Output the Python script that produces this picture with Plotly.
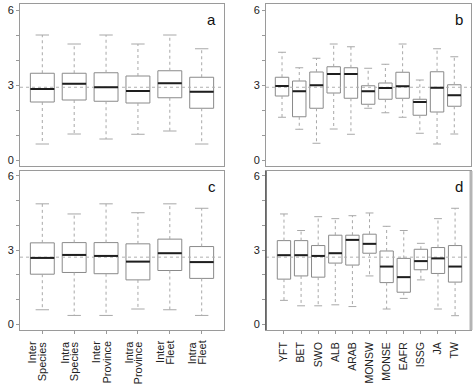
import plotly.graph_objects as go

W, H = 474, 386

# ---------------- data ----------------
group_line1 = ["Inter", "Intra", "Inter", "Intra", "Inter", "Intra"]
group_line2 = ["Species", "Species", "Province", "Province", "Fleet", "Fleet"]
stock_labels = ["YFT", "BET", "SWO", "ALB", "ARAB", "MONSW", "MONSE",
                "EAFR", "ISSG", "JA", "TW"]

# panel a
a_low = [0.64, 1.04, 0.84, 1.03, 1.16, 0.64]
a_q1 = [2.32, 2.40, 2.35, 2.28, 2.49, 2.07]
a_med = [2.84, 3.05, 2.91, 2.76, 3.07, 2.73]
a_q3 = [3.47, 3.47, 3.49, 3.36, 3.57, 3.31]
a_high = [5.00, 4.64, 5.00, 4.64, 5.00, 4.45]

# panel b
b_low = [1.71, 1.23, 0.67, 1.24, 1.03, 2.07, 1.89, 1.71, 1.07, 0.64, 1.04]
b_q1 = [2.56, 1.73, 2.07, 2.68, 2.47, 2.23, 2.43, 2.47, 1.79, 1.92, 2.15]
b_med = [2.96, 2.75, 2.99, 3.44, 3.44, 2.75, 2.88, 2.95, 2.32, 2.89, 2.59]
b_q3 = [3.31, 3.16, 3.52, 3.73, 3.69, 2.97, 3.08, 3.51, 2.43, 3.53, 3.01]
b_high = [4.31, 3.69, 4.07, 4.64, 4.53, 3.67, 3.83, 4.64, 3.20, 4.45, 4.13]

# panel c
c_low = [0.58, 0.35, 0.35, 0.61, 0.58, 0.35]
c_q1 = [2.02, 2.09, 2.04, 1.79, 2.17, 1.85]
c_med = [2.68, 2.80, 2.76, 2.53, 2.87, 2.51]
c_q3 = [3.29, 3.30, 3.30, 3.25, 3.44, 3.14]
c_high = [4.87, 4.46, 4.87, 4.51, 4.87, 4.69]

# panel d
d_low = [0.96, 0.74, 0.74, 0.78, 0.71, 1.95, 0.61, 1.04, 1.79, 0.61, 0.34]
d_q1 = [1.82, 1.95, 1.90, 2.47, 2.39, 2.87, 1.68, 1.29, 2.20, 2.05, 1.70]
d_med = [2.79, 2.79, 2.76, 2.87, 3.41, 3.25, 2.33, 1.90, 2.55, 2.66, 2.33]
d_q3 = [3.38, 3.38, 3.18, 3.60, 3.60, 3.64, 2.96, 2.66, 3.03, 3.10, 3.18]
d_high = [4.46, 3.79, 4.35, 4.27, 4.39, 4.50, 3.96, 3.79, 3.27, 4.27, 4.69]

ref_ab = 2.91
ref_cd = 2.71

y_ticks = [0, 1, 2, 3, 4, 5, 6]
y_ticktext = ["0", "", "", "3", "", "", "6"]

# ---------------- figure ----------------
fig = go.Figure()

FONT = "Liberation Sans, Arial, sans-serif"
BOX_COL = "#8a8a8a"
WHISK_COL = "#a8a8a8"
MED_COL = "#1e1e1e"
FRAME_COL = "#9a9a9a"

n_group = len(group_line1)
panels = [
    ("a", "x", "y", n_group, None, a_low, a_q1, a_med, a_q3, a_high, ref_ab,
     [20 / W, 224 / W], [1 - 166 / H, 1 - 4 / H], [-0.7, 5.7], [-0.24, 6.24], 0.75, 0.21, False),
    ("b", "x2", "y2", len(stock_labels), None, b_low, b_q1, b_med, b_q3, b_high, ref_ab,
     [266 / W, 471 / W], [1 - 166 / H, 1 - 4 / H], [-0.93, 10.97], [-0.24, 6.24], 0.78, 0.23, False),
    ("c", "x3", "y3", n_group, None, c_low, c_q1, c_med, c_q3, c_high, ref_cd,
     [20 / W, 224 / W], [1 - 330 / H, 1 - 171 / H], [-0.7, 5.7], [-0.24, 6.2], 0.75, 0.21, True),
    ("d", "x4", "y4", len(stock_labels), stock_labels, d_low, d_q1, d_med, d_q3, d_high, ref_cd,
     [266 / W, 471 / W], [1 - 330 / H, 1 - 171 / H], [-1.05, 10.93], [-0.24, 6.2], 0.78, 0.23, True),
]

for (letter, xa, ya, n, labels, low, q1, med, q3, high, ref,
     xdom, ydom, xr, yr, bw, cw, showticks) in panels:
    pos = list(range(n))

    fig.add_trace(go.Scatter(
        x=[xr[0], xr[1]], y=[ref, ref], mode="lines", xaxis=xa, yaxis=ya,
        line=dict(color="#b0b0b0", width=1, dash="dot"), hoverinfo="skip",
        showlegend=False))

    wx, wy = [], []
    for i in pos:
        wx += [i, i, None, i, i, None]
        wy += [q3[i], high[i], None, q1[i], low[i], None]
    fig.add_trace(go.Scatter(
        x=wx, y=wy, mode="lines", xaxis=xa, yaxis=ya,
        line=dict(color=WHISK_COL, width=1, dash="dot"), hoverinfo="skip",
        showlegend=False))

    cx, cy = [], []
    for i in pos:
        cx += [i - cw, i + cw, None, i - cw, i + cw, None]
        cy += [high[i], high[i], None, low[i], low[i], None]
    fig.add_trace(go.Scatter(
        x=cx, y=cy, mode="lines", xaxis=xa, yaxis=ya,
        line=dict(color=WHISK_COL, width=1), hoverinfo="skip",
        showlegend=False))

    fig.add_trace(go.Box(
        x=pos, q1=q1, median=med, q3=q3, lowerfence=q1, upperfence=q3,
        xaxis=xa, yaxis=ya, width=bw, whiskerwidth=0,
        fillcolor="rgba(255,255,255,0)", line=dict(color=BOX_COL, width=1),
        boxpoints=False, showlegend=False, hoverinfo="skip"))

    mx, my = [], []
    for i in pos:
        mx += [i - bw / 2, i + bw / 2, None]
        my += [med[i], med[i], None]
    fig.add_trace(go.Scatter(
        x=mx, y=my, mode="lines", xaxis=xa, yaxis=ya,
        line=dict(color=MED_COL, width=2), hoverinfo="skip",
        showlegend=False))

    xkey = "xaxis" + xa[1:]
    ykey = "yaxis" + ya[1:]
    fig.update_layout(**{
        xkey: dict(domain=xdom, range=xr, anchor=ya, showgrid=False,
                   zeroline=False, showline=True, mirror=True,
                   linecolor=FRAME_COL, linewidth=1,
                   tickmode="array", tickvals=pos,
                   ticktext=labels if labels else [""] * n,
                   ticks="outside" if showticks else "", ticklen=3,
                   ticklabelstandoff=4,
                   tickcolor=FRAME_COL, tickangle=-90,
                   tickfont=dict(family=FONT, size=10.5, color="#222")),
        ykey: dict(domain=ydom, range=yr, anchor=xa, showgrid=False,
                   zeroline=False, showline=True, mirror=True,
                   linecolor=FRAME_COL, linewidth=1,
                   tickmode="array", tickvals=y_ticks, ticktext=y_ticktext,
                   ticks="outside", ticklen=3, tickcolor=FRAME_COL,
                   tickfont=dict(family=FONT, size=11, color="#222")),
    })

    fig.add_annotation(
        text=letter, x=xdom[1] - 6 / W, y=ydom[1] - 15 / H,
        xref="paper", yref="paper", showarrow=False,
        xanchor="right", yanchor="middle",
        font=dict(family=FONT, size=15, color="#111"))

# two-line rotated category labels for panel c
for i in range(n_group):
    for txt, off in ((group_line1[i], -0.31), (group_line2[i], 0.0)):
        fig.add_annotation(
            text=txt, x=i + off, y=1 - 339 / H, xref="x3", yref="paper",
            textangle=-90, showarrow=False, xanchor="center", yanchor="top",
            font=dict(family=FONT, size=11, color="#222"))

fig.add_shape(type="line", xref="x4 domain", yref="y4 domain",
              x0=1, x1=1, y0=0, y1=1.0,
              line=dict(color="#b4b4b4", width=3))
fig.add_shape(type="line", xref="x4 domain", yref="y4 domain",
              x0=0, x1=0, y0=0, y1=1.0,
              line=dict(color="#555555", width=1.5))

fig.update_layout(
    width=W, height=H, margin=dict(l=0, r=0, t=0, b=0),
    paper_bgcolor="white", plot_bgcolor="white",
    showlegend=False,
)

fig.write_html("out.html", config={"displayModeBar": False},
               post_script="document.body.style.margin='0';document.body.style.overflow='hidden';")
